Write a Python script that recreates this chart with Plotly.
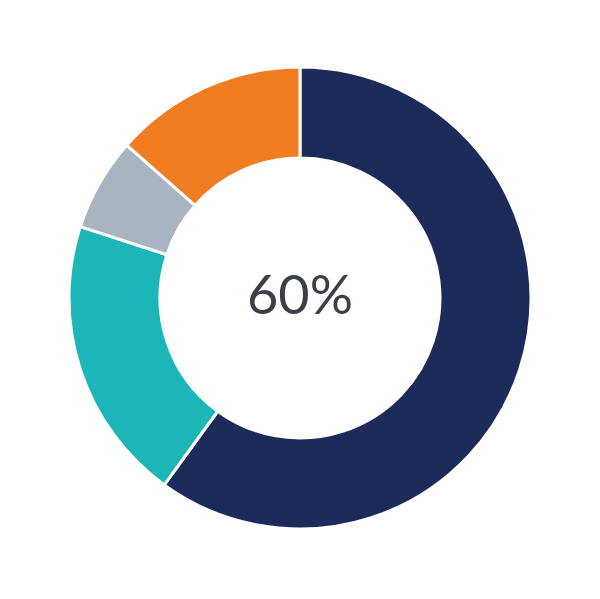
import plotly.graph_objects as go

labels = ['Navy', 'Teal', 'Gray', 'Orange']
values = [60, 20, 6.5, 13.5]
colors = ['#1c2b5a', '#1cb5b8', '#a9b4c2', '#f07d22']
center_text = '60%'

W, H = 600, 599
# page body adds an 8px margin, so aim a bit up-left
cx, cy, r = 292, 290, 231

fig = go.Figure()
fig.add_trace(go.Pie(
    labels=labels,
    values=values,
    hole=0.606,
    sort=False,
    direction='clockwise',
    rotation=0,
    marker=dict(colors=colors, line=dict(color='white', width=3)),
    textinfo='none',
    hoverinfo='label+percent',
    showlegend=False,
    domain=dict(x=[(cx - r) / W, (cx + r) / W],
                y=[(H - cy - r) / H, (H - cy + r) / H]),
))

fig.add_annotation(
    text=center_text, x=cx / W, y=(H - cy) / H, xref='paper', yref='paper',
    showarrow=False, yshift=4,
    font=dict(family='Lato', size=54, color='#3a3f4a'),
)

fig.update_layout(
    width=W, height=H,
    margin=dict(l=0, r=0, t=0, b=0),
    paper_bgcolor='white',
    plot_bgcolor='white',
)

fig.write_html("out.html")
